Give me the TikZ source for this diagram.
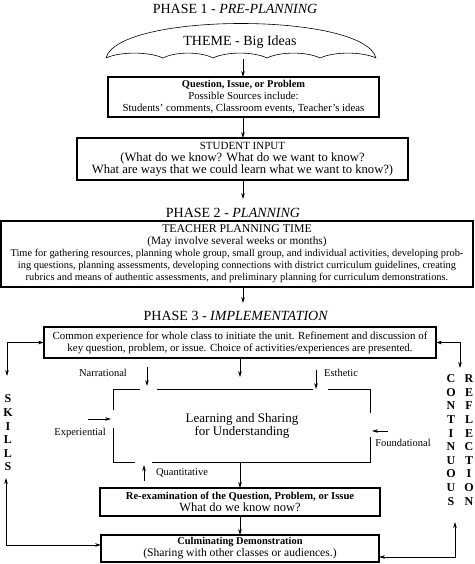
\documentclass[tikz,border=0pt]{standalone}
\usepackage{fontspec}
\setmainfont{Liberation Serif}
\usetikzlibrary{arrows.meta}
\begin{document}
\begin{tikzpicture}[x=1pt,y=-1pt,
  every node/.style={inner sep=0pt, outer sep=0pt},
  arr/.style={-{Stealth[length=6pt,width=3.6pt]}, line width=0.7pt},
  darr/.style={{Stealth[length=6pt,width=3.6pt]}-{Stealth[length=6pt,width=3.6pt]}, line width=0.7pt},
  boxA/.style={draw, line width=1.2pt, align=center},
  thin/.style={line width=0.6pt},
  title/.style={font=\fontsize{14}{16}\selectfont},
  lab/.style={font=\fontsize{10.5}{12}\selectfont},
  vlet/.style={font=\fontsize{12}{13.6}\selectfont\bfseries, align=center},
]
\useasboundingbox (0,0) rectangle (474,564);

% Phase 1
\node[title] (ph1) at (235,9) {PHASE 1 - \textit{PRE-PLANNING}};
\draw[thin] (106,58) .. controls (118,12) and (364,12) .. (376,58);
\draw[thin] (106,58) .. controls (120,51.5) and (149,51.5) .. (163,58)
  .. controls (175,51.5) and (201,51.5) .. (213,58)
  .. controls (226,51.5) and (254,51.5) .. (267,58)
  .. controls (280,51.5) and (307,51.5) .. (320,58)
  .. controls (334,51.5) and (362,51.5) .. (376,58);
\node[title] (theme) at (240,42) {THEME - Big Ideas};
\coordinate (canb) at (243,59);

\node[boxA, minimum width=271pt, minimum height=40pt] (box1) at (243.5,97)
  {\fontsize{10.4}{12}\selectfont\bfseries Question, Issue, or Problem\\
   \fontsize{10.8}{12}\selectfont Possible Sources include:\\
   \fontsize{10.8}{12}\selectfont Students' comments, Classroom events, Teacher's ideas};
\draw[arr] (canb) -- (canb |- box1.north);

\node[boxA, minimum width=331pt, minimum height=42pt] (box2) at (242.5,159)
  {\fontsize{11}{12.5}\selectfont STUDENT INPUT\\
   \fontsize{12.6}{12.5}\selectfont (What do we know? What do we want to know?\\
   \fontsize{12.6}{12.5}\selectfont What are ways that we could learn what we want to know?)};
\draw[arr] (box1.south -| canb) -- (canb |- box2.north);

% Phase 2
\node[title] (ph2) at (233,213) {PHASE 2 - \textit{PLANNING}};
\coordinate (p2a) at (243,199);
\draw[arr] (box2.south -| canb) -- (p2a);

\node[boxA, minimum width=472pt, minimum height=66pt] (box3) at (237,254)
  {\fontsize{11.8}{11.4}\selectfont TEACHER PLANNING TIME\\
   \fontsize{11.3}{11.4}\selectfont (May involve several weeks or months)\\
   \fontsize{10.4}{11.4}\selectfont Time for gathering resources, planning whole group, small group, and individual activities, developing prob-\\
   \fontsize{10.4}{11.4}\selectfont ing questions, planning assessments, developing connections with district curriculum guidelines, creating\\
   \fontsize{10.4}{11.4}\selectfont rubrics and means of authentic assessments, and preliminary planning for curriculum demonstrations.};

% Phase 3
\node[title] (ph3) at (236,316) {PHASE 3 - \textit{IMPLEMENTATION}};
\coordinate (p3a) at (243,303);
\draw[arr] (box3.south -| p3a) -- (p3a);

\node[boxA, line width=1.4pt, minimum width=392pt, minimum height=31pt] (box4) at (240,342.5)
  {\fontsize{10.9}{12}\selectfont Common experience for whole class to initiate the unit. Refinement and discussion of\\
   \fontsize{10.9}{12}\selectfont key question, problem, or issue. Choice of activities/experiences are presented.};

% side loops
\coordinate (lt) at (7,376);
\coordinate (rt) at (460,368);
\coordinate (lb) at (6,478);
\coordinate (rb) at (455,522);
\draw[darr] (lt) |- (box4.west);
\draw[darr] (rt) |- (box4.east);

\node[vlet] (skills) at (8,433) {S\\K\\I\\L\\L\\S};
\node[vlet] (cont) at (451,440) {C\\O\\N\\T\\I\\N\\U\\O\\U\\S};
\node[vlet] (refl) at (469,440) {R\\E\\F\\L\\E\\C\\T\\I\\O\\N};

% central learning frame
\coordinate (c1) at (240,377);
\draw[arr] (box4.south) -- (c1);
\draw[thin] (140,389) -- (113,389) -- (113,410);
\draw[thin] (113,428) -- (113,462) -- (135,462);
\draw[thin] (152,462) -- (370,462) -- (370,437);
\draw[thin] (370,413) -- (370,389) -- (328,389);
\draw[thin] (157,389) -- (313,389);

\node[font=\fontsize{13}{13.5}\selectfont, align=center] (learn) at (242,426)
  {Learning and Sharing\\for Understanding};

\coordinate (n1) at (147,367); \coordinate (n2) at (147,386);
\draw[arr] (n1) -- (n2);
\node[lab] (narr) at (103,373) {Narrational};
\coordinate (e1) at (316,370); \coordinate (e2) at (316,389);
\draw[arr] (e1) -- (e2);
\node[lab] (esth) at (341,373) {Esthetic};
\coordinate (x1) at (88,419); \coordinate (x2) at (111,419);
\draw[arr] (x1) -- (x2);
\node[lab] (expe) at (80,433) {Experiential};
\coordinate (f1) at (388,431); \coordinate (f2) at (372,431);
\draw[arr] (f1) -- (f2);
\node[lab] (foun) at (403,443) {Foundational};
\coordinate (q1) at (144,481); \coordinate (q2) at (144,465);
\draw[arr] (q1) -- (q2);
\node[lab] (quan) at (182,473) {Quantitative};

\node[boxA, minimum width=280pt, minimum height=28pt] (box5) at (240,502)
  {\fontsize{10.6}{12}\selectfont\bfseries Re-examination of the Question, Problem, or Issue\\
   \fontsize{12.5}{12}\selectfont What do we know now?};
\coordinate (bb) at (240,462);
\draw[arr] (bb) -- (box5.north);

\node[boxA, minimum width=278pt, minimum height=27pt] (box6) at (240,548.5)
  {\fontsize{10.4}{11.5}\selectfont\bfseries Culminating Demonstration\\
   \fontsize{11.6}{11.5}\selectfont (Sharing with other classes or audiences.)};
\draw[arr] (box5.south) -- (box6.north);

\draw[darr] (lb) |- ([yshift=3.5pt]box6.west);
\draw[darr] (rb) |- ([yshift=-8.5pt]box6.east);
\end{tikzpicture}
\end{document}
